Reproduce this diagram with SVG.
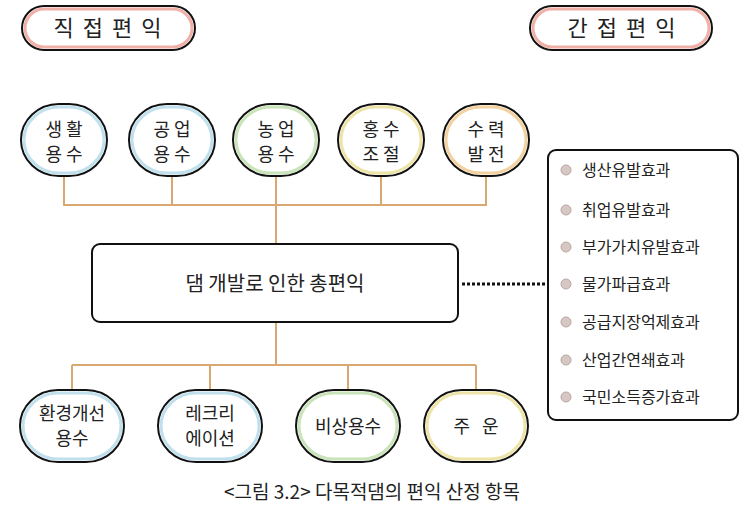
<svg xmlns="http://www.w3.org/2000/svg" width="743" height="509" viewBox="0 0 743 509">
<style>
text{font-family:"Noto Sans CJK KR","Noto Sans",sans-serif;fill:#222;text-anchor:middle}
.n{fill:#fff;stroke:#111;stroke-width:2}
.in{fill:none;stroke-width:3}
.c{stroke:#d8a870;stroke-width:2;fill:none}
.t{font-size:18px}
.h{font-size:22px;letter-spacing:9px}
.li{font-size:16px;text-anchor:start}
.b{fill:#d7c7c2;stroke:#b9a7a2}
</style>
<rect width="743" height="509" fill="#fff"/>
<g id="direct"><rect x="22" y="6" width="173" height="44" rx="22" class="n"/><rect x="25" y="9" width="167" height="38" rx="19" class="in" stroke="#f0b0a8"/><text x="112" y="36" class="h">직접편익</text></g>
<g id="indirect"><rect x="530" y="6" width="182" height="44" rx="22" class="n"/><rect x="533" y="9" width="176" height="38" rx="19" class="in" stroke="#f0b0a8"/><text x="626" y="36" class="h">간접편익</text></g>
<g id="connectors">
<path class="c" d="M64 176V205H486V176M172 176V205M276 176V244M381 176V205M276 322V365M72 365V390M476 365V390M72 365H476M210 365V390M348 365V390"/>
<line x1="462" y1="284" x2="546" y2="284" stroke="#111" stroke-width="3" stroke-dasharray="3,2"/>
</g>
<g id="n1"><rect x="21" y="104" width="86" height="72" rx="38" class="n"/><rect x="24" y="107" width="80" height="66" rx="35" class="in" stroke="#bfe0ec"/><text x="64" y="136" class="t">생 활</text><text x="64" y="161" class="t">용 수</text></g>
<g id="n2"><rect x="129" y="104" width="86" height="72" rx="38" class="n"/><rect x="132" y="107" width="80" height="66" rx="35" class="in" stroke="#bfe0ec"/><text x="172" y="136" class="t">공 업</text><text x="172" y="161" class="t">용 수</text></g>
<g id="n3"><rect x="233" y="104" width="86" height="72" rx="38" class="n"/><rect x="236" y="107" width="80" height="66" rx="35" class="in" stroke="#c8e4b8"/><text x="276" y="136" class="t">농 업</text><text x="276" y="161" class="t">용 수</text></g>
<g id="n4"><rect x="338" y="104" width="86" height="72" rx="38" class="n"/><rect x="341" y="107" width="80" height="66" rx="35" class="in" stroke="#eee4a8"/><text x="381" y="136" class="t">홍 수</text><text x="381" y="161" class="t">조 절</text></g>
<g id="n5"><rect x="443" y="104" width="86" height="72" rx="38" class="n"/><rect x="446" y="107" width="80" height="66" rx="35" class="in" stroke="#f3d2a0"/><text x="486" y="136" class="t">수 력</text><text x="486" y="161" class="t">발 전</text></g>
<g id="total"><rect x="92" y="244" width="366" height="78" rx="8" class="n"/><text x="275" y="291" style="font-size:20px">댐 개발로 인한 총편익</text></g>
<g id="list"><rect x="548" y="150" width="190" height="270" rx="8" class="n"/>
<circle cx="566" cy="170" r="5" class="b"/><text x="582" y="176" class="li">생산유발효과</text>
<circle cx="566" cy="210" r="5" class="b"/><text x="582" y="216" class="li">취업유발효과</text>
<circle cx="566" cy="247" r="5" class="b"/><text x="582" y="253" class="li">부가가치유발효과</text>
<circle cx="566" cy="284" r="5" class="b"/><text x="582" y="290" class="li">물가파급효과</text>
<circle cx="566" cy="322" r="5" class="b"/><text x="582" y="328" class="li">공급지장억제효과</text>
<circle cx="566" cy="360" r="5" class="b"/><text x="582" y="366" class="li">산업간연쇄효과</text>
<circle cx="566" cy="397" r="5" class="b"/><text x="582" y="403" class="li">국민소득증가효과</text>
</g>
<g id="b1"><rect x="20" y="390" width="104" height="72" rx="38" class="n"/><rect x="23" y="393" width="98" height="66" rx="35" class="in" stroke="#bfe0ec"/><text x="72" y="420" class="t">환경개선</text><text x="72" y="445" class="t">용수</text></g>
<g id="b2"><rect x="158" y="390" width="104" height="72" rx="38" class="n"/><rect x="161" y="393" width="98" height="66" rx="35" class="in" stroke="#bfe0ec"/><text x="210" y="420" class="t">레크리</text><text x="210" y="445" class="t">에이션</text></g>
<g id="b3"><rect x="296" y="390" width="104" height="72" rx="38" class="n"/><rect x="299" y="393" width="98" height="66" rx="35" class="in" stroke="#c8e4b8"/><text x="348" y="433" class="t">비상용수</text></g>
<g id="b4"><rect x="424" y="390" width="104" height="72" rx="38" class="n"/><rect x="427" y="393" width="98" height="66" rx="35" class="in" stroke="#eee4a8"/><text x="476" y="433" class="t" xml:space="preserve">주   운</text></g>
<text x="372" y="499" style="font-size:19px">&lt;그림 3.2&gt; 다목적댐의 편익 산정 항목</text>
</svg>
